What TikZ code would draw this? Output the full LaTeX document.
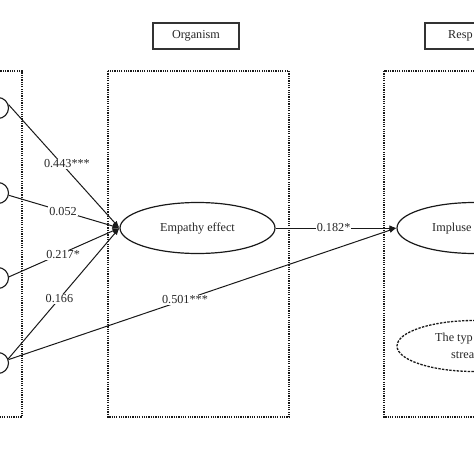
\documentclass[tikz,border=0pt]{standalone}
\usepackage{fontspec}
\setmainfont{Liberation Serif}
\usetikzlibrary{arrows.meta,shapes.geometric}
\begin{document}
\begin{tikzpicture}[x=1pt,y=-1pt,
  lab/.style={font=\fontsize{12.2}{14}\selectfont, text=black!85},
  zone/.style={draw=black!90, line width=1.7pt, dash pattern=on 1.2pt off 1.1pt},
  stage/.style={draw=black!80, line width=1.2pt},
  var/.style={draw=black!90, circle, minimum size=21pt, inner sep=0pt, line width=1.1pt},
  construct/.style={draw=black!90, ellipse, minimum width=155pt, minimum height=51pt, inner sep=0pt, line width=1.2pt},
  moderator/.style={construct, dashed, line width=1.3pt, dash pattern=on 2.4pt off 1.3pt},
  pathline/.style={draw=black!90, line width=1pt, -{Latex[length=7pt,width=5.5pt]}},
  coef/.style={lab, fill=white, inner sep=1pt}
]
\useasboundingbox (0,0) rectangle (474,474);
% dotted zones
\draw[zone] (-20,71) rectangle (22,417);
\draw[zone] (108,71) rectangle (289,417);
\draw[zone] (384,71) rectangle (520,417);
% stage boxes
\node[stage, lab, minimum width=86pt, minimum height=26pt, inner sep=0pt] (org) at (196,36) {Organism};
\draw[stage] (425,23) rectangle (520,49);
\node[lab, anchor=west, inner sep=0pt] (resp) at (448,36) {Resp};
% stimulus variables (clipped)
\node[var] (c1) at (-2,108) {};
\node[var] (c2) at (-2,193) {};
\node[var] (c3) at (-2,278) {};
\node[var] (c4) at (-2,363) {};
% constructs
\node[construct] (emp) at (197.5,228) {};
\node[lab] (empt) at (197.5,229) {Empathy effect};
\node[construct] (imp) at (474.5,228) {};
\node[lab, anchor=west, inner sep=0pt] (impt) at (432,229) {Impluse};
\node[moderator] (typ) at (474.5,346) {};
\node[lab, anchor=west, inner sep=0pt] (typa) at (435,339) {The typ};
\node[lab, anchor=west, inner sep=0pt] (typb) at (451,355) {strea};
% paths
\draw[pathline] (c1.18) -- node[coef, pos=.5, xshift=3pt, yshift=2.5pt] {0.443***} (emp.west);
\draw[pathline] (c2.-12) -- node[coef, pos=.49] {0.052} (emp.west);
\draw[pathline] (c3.6) -- node[coef, pos=.49, yshift=-2pt] {0.217*} (emp.west);
\draw[pathline] (c4.22) -- node[coef, pos=.46] {0.166} (emp.west);
\draw[pathline] (c4.18) -- node[coef, pos=.455] {0.501***} (imp.west);
\draw[pathline] (emp.east) -- node[coef, pos=.48] {0.182*} (imp.west);
\end{tikzpicture}
\end{document}
